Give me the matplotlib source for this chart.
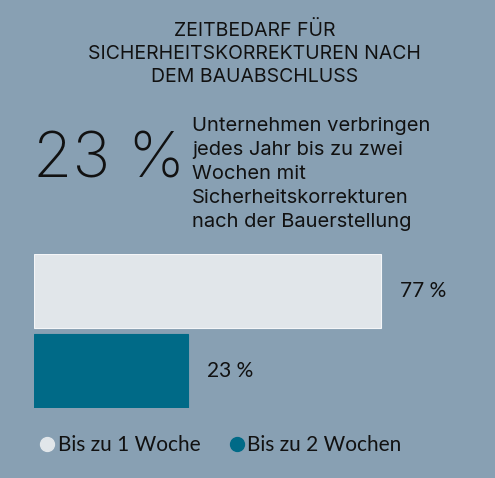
import matplotlib
matplotlib.use("Agg")
import matplotlib.pyplot as plt
from matplotlib.lines import Line2D

# Daten
kategorien = ["Bis zu 1 Woche", "Bis zu 2 Wochen"]
werte = [77, 23]
farben = ["#e1e6ea", "#006a87"]
titel = "ZEITBEDARF FÜR\nSICHERHEITSKORREKTUREN NACH\nDEM BAUABSCHLUSS"
kennzahl = "23 %"
beschreibung = ("Unternehmen verbringen\njedes Jahr bis zu zwei\nWochen mit\n"
                "Sicherheitskorrekturen\nnach der Bauerstellung")

HINTERGRUND = "#88a0b3"
TEXTFARBE = "#111111"
BASIS = -20  # Balken beginnen links vom Nullpunkt (wie im Original)

fig = plt.figure(figsize=(4.95, 4.78), dpi=100, facecolor=HINTERGRUND)

# Titel
fig.text(0.515, 1 - 21 / 478, titel, ha="center", va="top", fontsize=14,
         family=["Inter", "DejaVu Sans"], color=TEXTFARBE, linespacing=1.36)

# Große Kennzahl
fig.text(33 / 495, 1 - 177 / 478, kennzahl, ha="left", va="baseline",
         fontsize=46, family=["Inter", "DejaVu Sans"], fontweight="light",
         color=TEXTFARBE)

# Beschreibung
fig.text(192 / 495, 1 - 117 / 478, beschreibung, ha="left", va="top",
         fontsize=14.5, family=["Inter", "DejaVu Sans"], color=TEXTFARBE,
         linespacing=1.42)

# Balken
ax = fig.add_axes([34 / 495, 70 / 478, 461 / 495, 154 / 478])
ax.set_facecolor(HINTERGRUND)
pos = [1, 0]
for p, w, f in zip(pos, werte, farben):
    ax.barh(p, w - BASIS, left=BASIS, height=0.925, color=f,
            edgecolor="#f4f6f8" if f == farben[0] else f, linewidth=0.8)
    ax.annotate(f"{w} %", xy=(w, p), xytext=(14, 0), textcoords="offset points",
                ha="left", va="center", fontsize=15, family=["Lato", "DejaVu Sans"],
                color=TEXTFARBE)
ax.set_xlim(BASIS, 109)
ax.set_ylim(-0.4625, 1.4625)
ax.axis("off")

# Legende
handles = [Line2D([], [], marker="o", linestyle="none", markersize=10,
                  markerfacecolor=f, markeredgecolor=f) for f in farben]
fig.legend(handles, kategorien, loc="center left",
           bbox_to_anchor=(40 / 495, 1 - 445 / 478), ncol=2, frameon=False,
           prop={"family": ["Lato", "DejaVu Sans"], "size": 15},
           handlelength=0.7, handletextpad=0.15, columnspacing=1.4,
           borderpad=0, borderaxespad=0, labelcolor=TEXTFARBE)

fig.savefig("out.png", dpi=100, facecolor=HINTERGRUND)
